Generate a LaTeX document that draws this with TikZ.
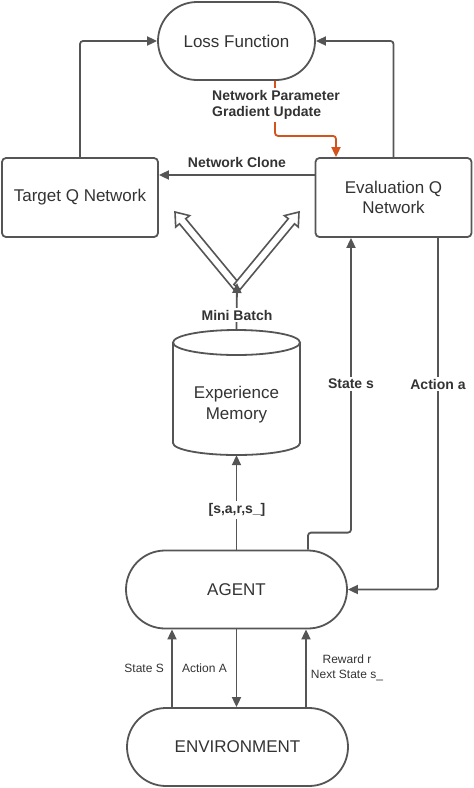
\documentclass[tikz,border=0pt]{standalone}
\usepackage{fontspec}
\setmainfont{Liberation Sans}
\usetikzlibrary{arrows.meta,shapes.misc}
\definecolor{ln}{HTML}{555555}
\definecolor{tx}{HTML}{333333}
\definecolor{org}{HTML}{D4521B}
\begin{document}
\begin{tikzpicture}[x=1pt,y=-1pt,
  every node/.style={text=tx},
  conn/.style={draw=ln,line width=1.8pt,-{Triangle[length=10pt,width=9pt]},rounded corners=3pt},
  stadium/.style={rounded rectangle,draw=ln,line width=1.8pt,minimum height=78pt,font=\fontsize{17}{20}\selectfont,inner sep=0pt},
  qbox/.style={draw=ln,line width=1.8pt,rounded corners=4pt,minimum width=156pt,minimum height=79pt,font=\fontsize{17}{20}\selectfont,align=center,inner sep=0pt},
  blabel/.style={font=\fontsize{14}{16}\selectfont\bfseries,fill=white,inner sep=2pt},
  slabel/.style={font=\fontsize{12}{15}\selectfont,inner sep=2pt,align=center},
  hollow/.style={draw=ln,line width=1.6pt,fill=white,line join=miter},
]
\useasboundingbox (0,0) rectangle (474,788);

% main nodes
\node[stadium,minimum width=157pt] (loss) at (236.5,41) {Loss Function};
\node[qbox] (tq) at (80,197.5) {Target Q Network};
\node[qbox] (eq) at (393.5,197.5) {Evaluation Q\\Network};
\node[stadium,minimum width=221pt] (ag) at (236.5,589.5) {AGENT};
\node[stadium,minimum width=221pt] (env) at (237.5,747) {ENVIRONMENT};

% experience memory cylinder
\node[minimum width=127pt,minimum height=125pt,inner sep=0pt] (mem) at (236.5,392.5) {};
\draw[draw=ln,line width=1.8pt] (173,342.5) -- (173,443)
  arc[start angle=180,end angle=360,x radius=63.5pt,y radius=12pt] -- (300,342.5);
\draw[draw=ln,line width=1.8pt] (236.5,342.5) ellipse[x radius=63.5pt,y radius=12.5pt];
\node[font=\fontsize{17}{21}\selectfont,align=center,inner sep=0pt] (memtext) at (236.5,405) {Experience\\Memory};

% top connectors
\draw[conn] (tq.north) |- (loss.west);
\draw[conn] (eq.north) |- (loss.east);
\draw[conn,draw=org] ([xshift=38.5pt]loss.south) -- ++(0,55) -| ([xshift=-57.5pt]eq.north);
\node[blabel,align=left,anchor=west] (grad) at (210,105) {Network Parameter\\Gradient Update};
\draw[conn] ([yshift=22.5pt]eq.west) -- ([yshift=22.5pt]tq.east);
\node[font=\fontsize{14}{16}\selectfont\bfseries,inner sep=0pt] (clone) at (237,162) {Network Clone};

% hollow double arrows
\coordinate (mb) at (237,283);
\draw[hollow] (240.1,284.5) -- (185.7,218.7) -- (189.6,215.6) -- (175,212) -- (175.7,227.0) -- (179.5,223.8) -- (233.9,289.5) -- cycle;
\draw[hollow] (233.9,284.5) -- (288.3,218.7) -- (284.4,215.6) -- (299,212) -- (298.3,227.0) -- (294.5,223.8) -- (240.1,289.5) -- cycle;

% memory connectors
\draw[conn] (mem.north) -- (mb);
\node[blabel] (minib) at (237,315) {Mini Batch};
\draw[conn] (ag.north) -- (mem.south);
\node[blabel] (sars) at (237,510) {[s,a,r,s\_]};

% agent <-> evaluation network
\draw[conn] ([xshift=71.5pt]ag.north) -- ++(0,-17) -| ([xshift=-42.5pt]eq.south);
\node[blabel] (sts) at (351,384) {State s};
\draw[conn] ([xshift=44.5pt]eq.south) |- (ag.east);
\node[blabel] (acta) at (438,384) {Action a};

% agent <-> environment
\draw[conn] ([xshift=-65.5pt]env.north) -- ([xshift=-65.5pt]env.north |- ag.south);
\node[slabel,anchor=east] (stS) at (166,668) {State S};
\draw[conn] (ag.south) -- (ag.south |- env.north);
\node[slabel,anchor=east] (actA) at (229,668) {Action A};
\draw[conn] ([xshift=68.5pt]env.north) -- ([xshift=68.5pt]env.north |- ag.south);
\node[slabel] (rew) at (347,668) {Reward r\\Next State s\_};
\end{tikzpicture}
\end{document}
